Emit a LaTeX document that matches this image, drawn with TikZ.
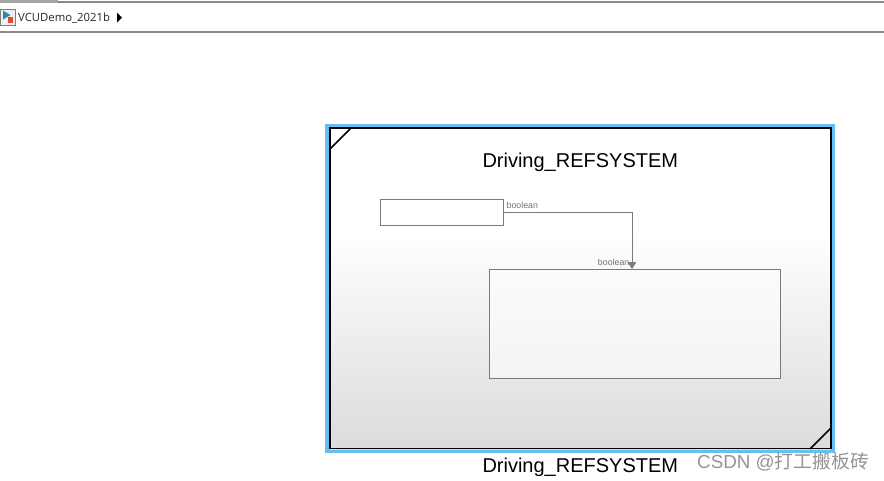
\documentclass[tikz,border=0pt]{standalone}
\usepackage{fontspec}
\setmainfont{Liberation Sans}
\newfontfamily\cjk{Noto Sans CJK SC}
\newfontfamily\crumbfont{Open Sans}
\usetikzlibrary{arrows.meta}
\definecolor{selblue}{HTML}{66BFF2}
\definecolor{blockgray}{HTML}{7A7A7A}
\definecolor{labelgray}{HTML}{737373}
\definecolor{bargray}{HTML}{8A8794}
\definecolor{iconblue}{HTML}{2E86B8}
\definecolor{iconred}{HTML}{D9502A}
\tikzset{
  x=1pt,y=-1pt,
  blockbox/.style={draw=blockgray,line width=1pt,inner sep=0pt},
  typelabel/.style={text=labelgray,font=\fontsize{8.8}{10}\selectfont,inner sep=0pt},
  titlelabel/.style={text=black,font=\fontsize{20}{24}\selectfont,inner sep=0pt},
  cornermark/.style={draw=black,line width=1.6pt},
  wire/.style={draw=blockgray,line width=1pt,-{Triangle[length=7pt,width=8.5pt]}}
}
\begin{document}
\begin{tikzpicture}
\useasboundingbox (0,0) rectangle (884,480);
\fill[white] (0,0) rectangle (884,480);
% toolbar
\fill[black!35] (0,0) rectangle (58,2.5);
\fill[bargray] (58,1) rectangle (884,2.6);
\fill[bargray] (0,31) rectangle (884,32.5);
\draw[black!50,line width=0.8pt,fill=black!6] (0.5,9.5) rectangle (15.5,25);
\fill[iconblue] (3,10.5) -- (10.5,15) -- (3,19.5) -- cycle;
\fill[iconred] (7.5,16.5) rectangle (13,22.5);
\node[anchor=west,inner sep=0pt,font=\crumbfont\fontsize{11.3}{14}\selectfont,text=black!85] (crumb) at (18,18) {VCUDemo\_2021b};
\fill[black] (117,12.5) -- (122,17.5) -- (117,22.5) -- cycle;
% subsystem frame
\fill[selblue] (325,123.5) rectangle (835,453);
\fill[white] (330,128) rectangle (831,232);
\shade[top color=white,bottom color=black!14,shading angle=0] (330,232) rectangle (831,449);
\node[draw=black,line width=1.5pt,minimum width=501pt,minimum height=320.5pt,inner sep=0pt] (frame) at (580.5,288.25) {};
\coordinate (tlA) at (330,149);
\coordinate (tlB) at (351,128);
\coordinate (brA) at (810,449);
\coordinate (brB) at (831,428);
\draw[cornermark] (tlA) -- (tlB);
\draw[cornermark] (brA) -- (brB);
\node[titlelabel] (title) at (580.3,162.5) {Driving\_REFSYSTEM};
\node[blockbox,fill=white,minimum width=123.5pt,minimum height=26pt] (src) at (442,212) {};
\node[blockbox,fill=white,fill opacity=0.55,minimum width=291pt,minimum height=109pt,anchor=north west] (dst) at (489,269) {};
\coordinate (dstport) at (632,269);
\draw[wire] (src.east) -- (632,212) -- (dstport);
\node[typelabel,anchor=west] (outlab) at (506.5,205) {boolean};
\node[typelabel,anchor=east] (inlab) at (629.5,262.5) {boolean};
\node[titlelabel] (name) at (580.3,467) {Driving\_REFSYSTEM};
\node[anchor=east,inner sep=0pt,text=black!42,font=\fontsize{18.8}{22}\selectfont] (mark) at (869,461.5) {CSDN @{\cjk 打工搬板砖}};
\end{tikzpicture}
\end{document}
